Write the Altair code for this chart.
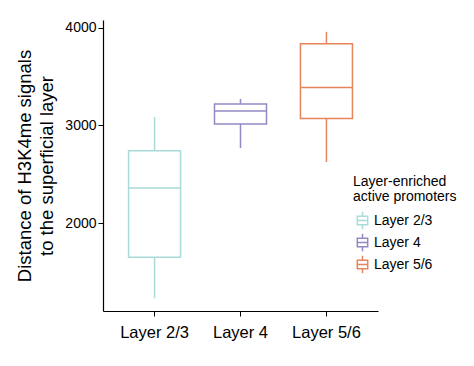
import altair as alt
import pandas as pd

layers = ["Layer 2/3", "Layer 4", "Layer 5/6"]
whisker_low = [1231, 2769, 2626]
q1 = [1651, 3015, 3072]
median = [2359, 3149, 3390]
q3 = [2742, 3221, 3836]
whisker_high = [3087, 3272, 3959]
colors = ["#a9dbd9", "#9289c3", "#e6845c"]

df = pd.DataFrame({
    "layer": layers, "lo": whisker_low, "q1": q1, "med": median,
    "q3": q3, "hi": whisker_high,
})

FONT = "Liberation Sans"

x = alt.X("layer:N", sort=layers, title=None,
          scale=alt.Scale(paddingInner=0, paddingOuter=0.1),
          axis=alt.Axis(labelAngle=0, labelFontSize=16.5, labelColor="black",
                        labelPadding=8, tickColor="black", domainColor="black",
                        tickSize=5, domainWidth=1.2, labelFont=FONT))
yscale = alt.Scale(domain=[1100, 4080], nice=False, zero=False)
legend = alt.Legend(
    title=["Layer-enriched", "active promoters"],
    orient="none", legendX=250, legendY=155,
    titleFontSize=14, labelFontSize=14,
    titleFont=FONT, labelFont=FONT,
    titleFontWeight="normal", titleColor="black",
    labelColor="black", titlePadding=7, labelOffset=2,
    symbolType="M-0.6,-0.5H0.6V0.5H-0.6Z M-0.6,0H0.6 M0,-0.5V-1 M0,0.5V1",
    symbolSize=300, symbolStrokeWidth=1.5,
    symbolFillColor="white", rowPadding=-8,
    titleLineHeight=15)
stroke = alt.Stroke("layer:N", sort=layers,
                    scale=alt.Scale(domain=layers, range=colors),
                    legend=legend)

base = alt.Chart(df).encode(x=x, stroke=stroke)

y_axis = alt.Axis(values=[2000, 3000, 4000], format="d", labelFontSize=14, labelColor="black",
                  tickColor="black", domainColor="black", tickSize=5, domainWidth=1.2,
                  title=["Distance of H3K4me signals", "to the superficial layer"],
                  titleFontSize=18.5, titleFontWeight="normal", titleColor="black",
                  titleLineHeight=22, titlePadding=8, labelFont=FONT, titleFont=FONT,
                  grid=False)

w_low = base.mark_rule(strokeWidth=1.5).encode(
    y=alt.Y("lo:Q", scale=yscale, axis=y_axis), y2="q1:Q")
w_high = base.mark_rule(strokeWidth=1.5).encode(
    y=alt.Y("q3:Q", scale=yscale), y2="hi:Q")
box = base.mark_bar(width=52, fill="white", strokeWidth=1.5).encode(
    y=alt.Y("q1:Q", scale=yscale), y2="q3:Q")
med = base.mark_bar(width=52, fill="white", strokeWidth=1.5).encode(
    y=alt.Y("med:Q", scale=yscale), y2="med:Q")

chart = alt.layer(w_low, w_high, box, med).properties(
    width=275, height=291, padding={"left": 7, "top": 12, "right": 5, "bottom": 5}
).configure_view(stroke=None).configure_axis(grid=False)

chart.save("out.html", embed_options={"renderer": "svg", "actions": False})
